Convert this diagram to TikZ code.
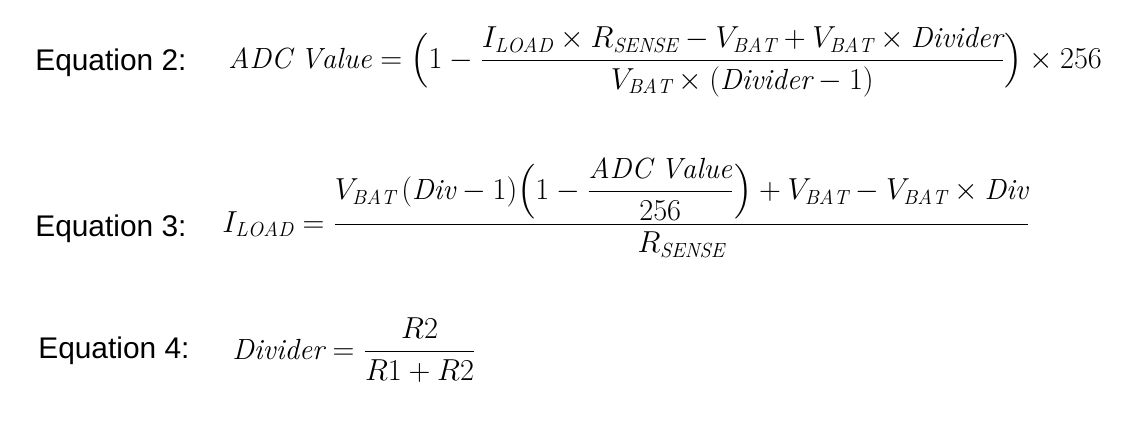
\documentclass[tikz,border=0pt]{standalone}
\usepackage{amsmath}
\usepackage{fontspec}
\setsansfont{Liberation Sans}
\begin{document}
\begin{tikzpicture}[x=0.02cm,y=-0.02cm,
  lab/.style={anchor=base west,inner sep=0,font=\sffamily\fontsize{17}{20}\selectfont},
  eq/.style={anchor=west,inner sep=0,font=\fontsize{16.6}{20}\selectfont}]
\useasboundingbox (0,0) rectangle (1132,424);
\node[lab] (l2) at (35,70) {Equation 2:};
\node[lab] (l3) at (35,236) {Equation 3:};
\node[lab] (l4) at (38,358) {Equation 4:};
\node[eq] (e2) at (228,62) {$\mathit{ADC\ Value}=\Bigl(1-\dfrac{I_{\mathit{LOAD}}\times R_{\mathit{SENSE}}-V_{\mathit{BAT}}+V_{\mathit{BAT}}\times \mathit{Divider}}{V_{\mathit{BAT}}\times(\mathit{Divider}-1)}\Bigr)\times 256$};
\node[eq] (e3) at (222,208) {$I_{\mathit{LOAD}}=\dfrac{V_{\mathit{BAT}}\,(\mathit{Div}-1)\Bigl(1-\dfrac{\mathit{ADC\ Value}}{256}\Bigr)+V_{\mathit{BAT}}-V_{\mathit{BAT}}\times \mathit{Div}}{R_{\mathit{SENSE}}}$};
\node[eq] (e4) at (232,350) {$\mathit{Divider}=\dfrac{R2}{R1+R2}$};
\end{tikzpicture}
\end{document}
